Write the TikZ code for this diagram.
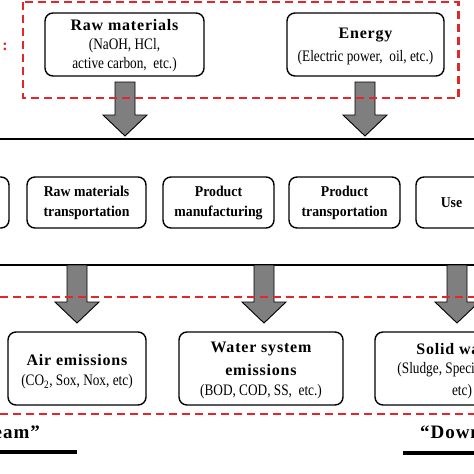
\documentclass[tikz,border=0pt]{standalone}
\usepackage{fontspec}
\setmainfont{Liberation Serif}
\newfontfamily\headfont[LetterSpace=5]{Liberation Serif}
\newfontfamily\subfont[FakeStretch=0.83]{Liberation Serif}
\newfontfamily\midfont[FakeStretch=0.92]{Liberation Serif}
\definecolor{dred}{HTML}{E3262B}
\definecolor{agray}{HTML}{7F7F7F}
\newcommand\fatarrow[4]{%
  \draw[barrow] ({#1-10},#2) -- ({#1+10},#2) -- ({#1+10},#3) -- ({#1+22},#3)
    -- (#1,#4) -- ({#1-22},#3) -- ({#1-10},#3) -- cycle;}
\begin{document}
\begin{tikzpicture}[x=1pt,y=-1pt,
  box/.style={draw,line width=1.4pt,rounded corners=8pt,align=center,inner sep=0pt},
  barrow/.style={draw=black,line width=0.9pt,fill=agray},
  reddash/.style={draw=dred,line width=2.2pt,dash pattern=on 8pt off 5pt},
  hd/.style={font=\headfont\bfseries\fontsize{16}{19}\selectfont},
  mid/.style={font=\midfont\bfseries\fontsize{15}{20}\selectfont},
  sb/.style={font=\subfont\fontsize{16}{19}\selectfont}]
\useasboundingbox (0,0) rectangle (474,474);
\clip (0,0) rectangle (474,474);

% top input boxes
\node[box,minimum width=159pt,minimum height=63pt] (raw) at (124.5,44.5) {};
\node[hd] (rawt) at (124.5,25) {Raw materials};
\node[sb] (rawa) at (124.5,46) {(NaOH, HCl,};
\node[sb] (rawb) at (124.5,65) {active carbon,\ \ etc.)};

\node[box,minimum width=157pt,minimum height=63pt] (en) at (365.5,44.5) {};
\node[hd] (ent) at (365.5,35) {Energy};
\node[sb] (ena) at (365.5,58) {(Electric power,\ \ oil, etc.)};

% top arrows
\fatarrow{125}{82}{115}{136}
\fatarrow{365}{82}{115}{136}

% horizontal lines
\coordinate (l1a) at (0,139);
\coordinate (l1b) at (474,139);
\coordinate (l2a) at (0,265);
\coordinate (l2b) at (474,265);
\draw[line width=1.5pt] (l1a) -- (l1b);
\draw[line width=1.5pt] (l2a) -- (l2b);

% life-cycle stages
\node[box,minimum width=111pt,minimum height=51pt] (s1) at (-46.5,202.5) {};
\node[box,mid,minimum width=119pt,minimum height=51pt] (s2) at (86.5,202.5) {Raw materials\\transportation};
\node[box,mid,minimum width=111pt,minimum height=51pt] (s3) at (218.5,202.5) {Product\\manufacturing};
\node[box,mid,minimum width=111pt,minimum height=51pt] (s4) at (344.5,202.5) {Product\\transportation};
\node[box,mid,minimum width=71pt,minimum height=51pt] (s5) at (451.5,202.5) {Use};

% bottom arrows
\fatarrow{77}{265}{302}{323}
\fatarrow{264}{265}{302}{323}
\fatarrow{457}{265}{302}{323}

% output boxes
\node[box,minimum width=138pt,minimum height=73pt] (air) at (77,368.5) {};
\node[hd] (airt) at (77,360) {Air emissions};
\node[sb] (aira) at (77,382) {(CO\textsubscript{2}, Sox, Nox, etc)};

\node[box,minimum width=164pt,minimum height=73pt] (wat) at (261,368.5) {};
\node[hd] (watt) at (261,349) {Water system};
\node[hd] (watu) at (261,370) {emissions};
\node[sb] (wata) at (261,392) {(BOD, COD, SS,\ \ etc.)};

\node[box,minimum width=174pt,minimum height=73pt] (sol) at (462,368.5) {};
\node[hd] (solt) at (462,349) {Solid wastes};
\node[sb] (sola) at (462,370) {(Sludge, Special wastes,};
\node[sb] (solb) at (462,392) {etc)};

% red dashed frames
\draw[reddash] (23,2) rectangle (458.5,98);
\coordinate (r1a) at (0,297);
\coordinate (r1b) at (474,297);
\coordinate (r2a) at (0,414);
\coordinate (r2b) at (474,414);
\draw[reddash] (r1a) -- (r1b);
\draw[reddash] (r2a) -- (r2b);
\node[text=dred,font=\bfseries\fontsize{16}{16}\selectfont] (colon) at (5,47) {:};

% upstream / downstream labels
\node[anchor=base east,font=\headfont\bfseries\fontsize{19}{19}\selectfont,inner sep=0pt] (up) at (40,438) {“Upstream”};
\node[anchor=base west,font=\headfont\bfseries\fontsize{19}{19}\selectfont,inner sep=0pt] (down) at (420,438) {“Downstream”};
\draw[line width=4pt] (0,452) -- (77,452);
\draw[line width=4pt] (403,453) -- (474,453);
\end{tikzpicture}
\end{document}
